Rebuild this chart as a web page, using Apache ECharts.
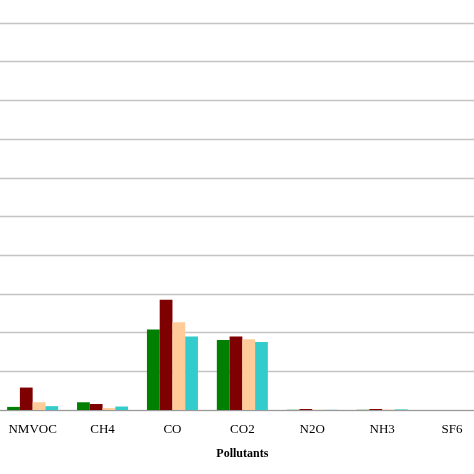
<!DOCTYPE html>
<html><head><meta charset="utf-8">
<script src="https://cdn.jsdelivr.net/npm/echarts@6/dist/echarts.min.js"></script>
<style>html,body{margin:0;padding:0;background:#fff;overflow:hidden;width:474px;height:474px}#c{position:absolute;left:-3px;top:0;width:493px;height:474px}</style>
</head><body><div id="c"></div>
<script>
var categories = ['NMVOC','CH4','CO','CO2','N2O','NH3','SF6'];
var seriesA = [0.8, 2.0, 20.8, 18.1, 0.05, 0.05, 0];
var seriesB = [5.8, 1.55, 28.5, 19.0, 0.25, 0.25, 0];
var seriesC = [2.0, 0.5, 22.7, 18.3, 0.05, 0.1, 0];
var seriesD = [1.0, 0.9, 19.0, 17.6, 0.05, 0.15, 0];
var colors = ['#007f00','#7f0000','#ffcc99','#33cccc'];
var chart = echarts.init(document.getElementById('c'));
function mk(d,i){return {type:'bar',data:d,barGap:'0%',barCategoryGap:'27%',itemStyle:{color:colors[i]},silent:true};}
chart.setOption({
  animation:false,
  grid:{left:0.7,right:3,top:23,bottom:64,containLabel:false},
  xAxis:{type:'category',data:categories,
    name:'Pollutants',nameLocation:'middle',nameGap:38,
    nameTextStyle:{fontFamily:'Liberation Serif',fontWeight:'bold',fontSize:12,color:'#000'},
    axisLine:{lineStyle:{color:'#999',width:1}},
    axisTick:{length:4,lineStyle:{color:'#999'}},
    axisLabel:{fontFamily:'Liberation Serif',fontSize:13,color:'#000',margin:13,interval:0}},
  yAxis:{type:'value',min:0,max:100,interval:10,
    axisLabel:{show:false},axisLine:{show:false},axisTick:{show:false},
    splitLine:{lineStyle:{color:'#c4c4c4',width:1.3}}},
  series:[mk(seriesA,0),mk(seriesB,1),mk(seriesC,2),mk(seriesD,3)]
});
</script></body></html>
